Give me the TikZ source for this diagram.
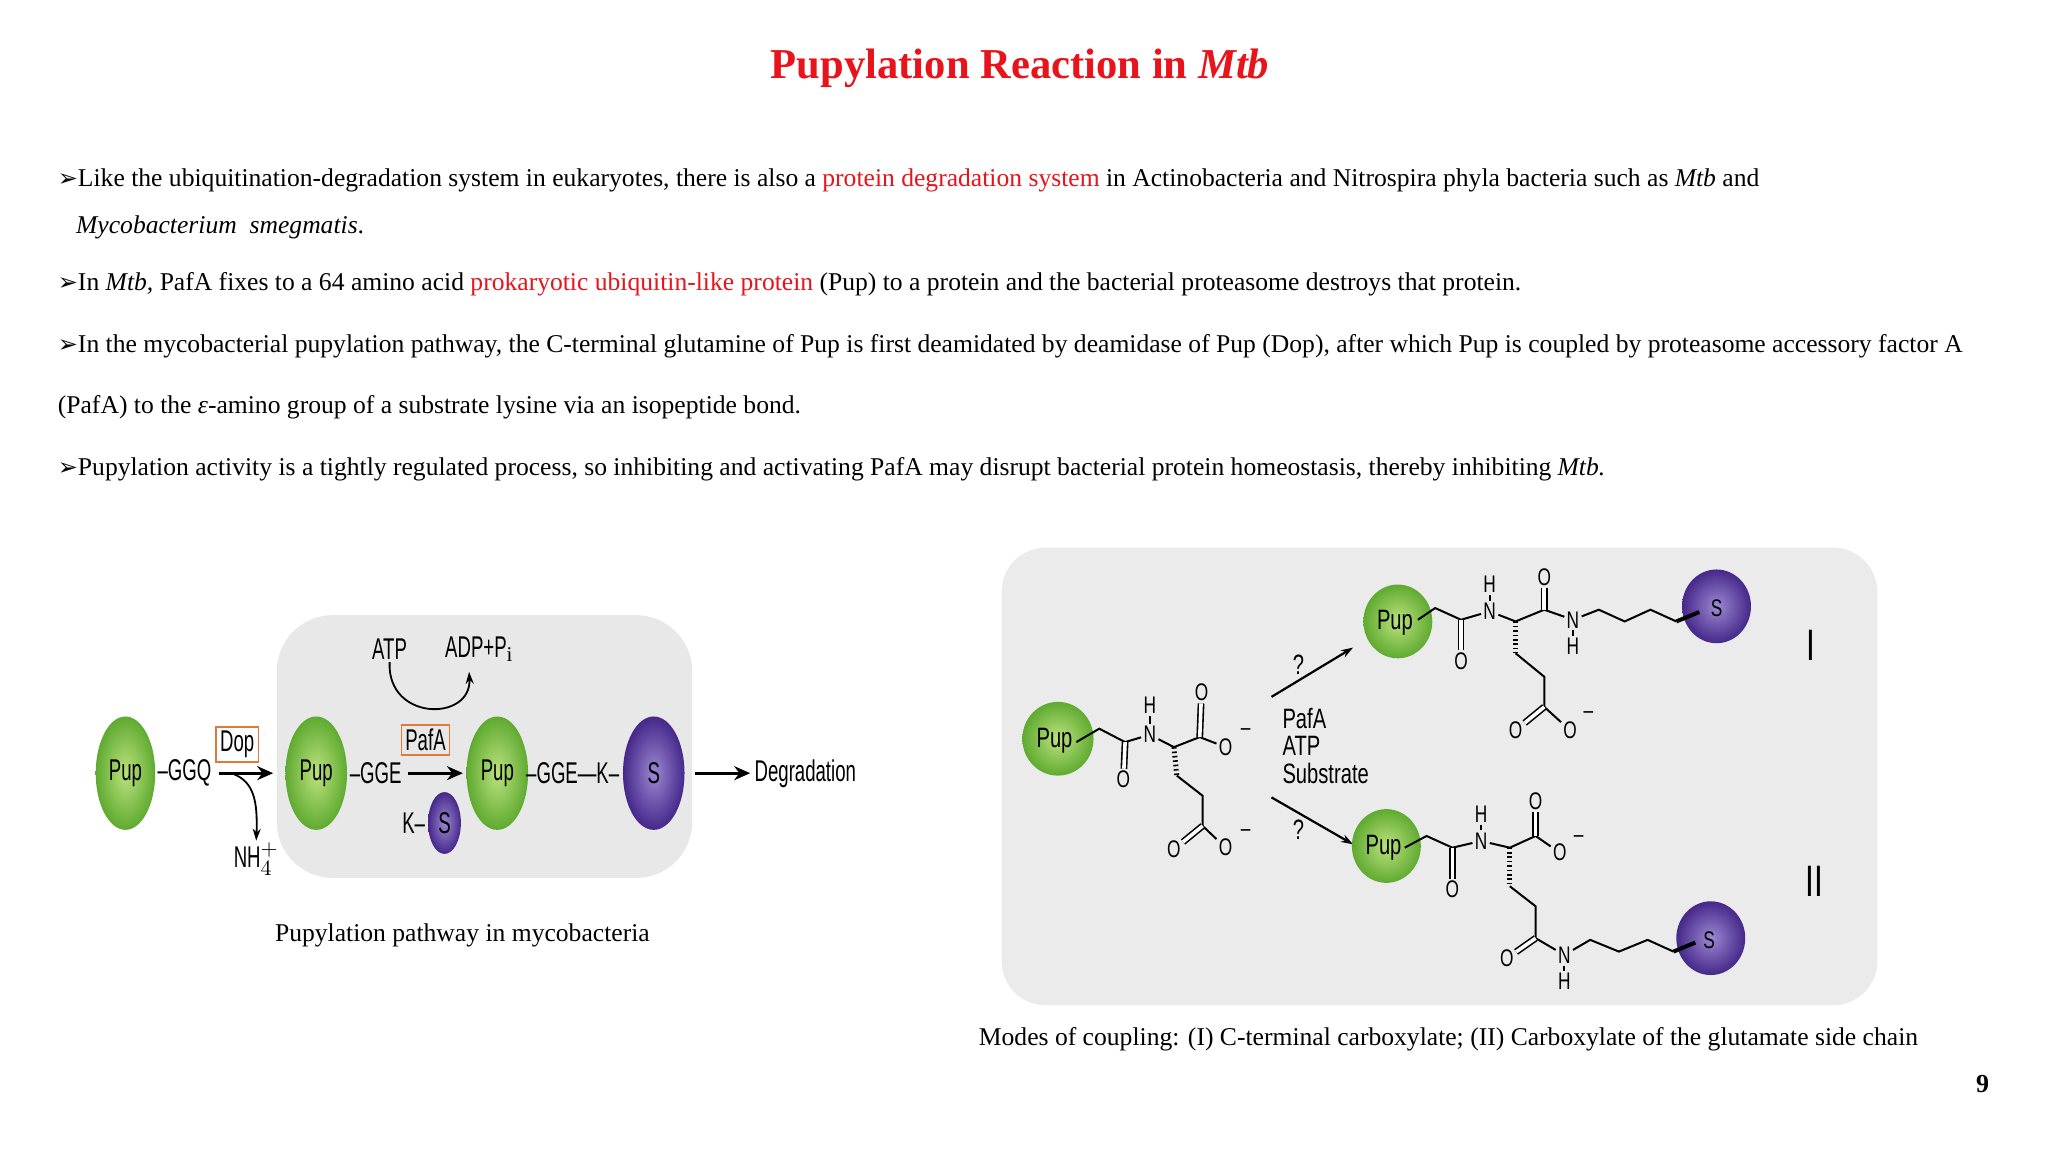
\documentclass[tikz,border=0pt]{standalone}
\usepackage{fontspec}
\setmainfont{Liberation Serif}
\newfontfamily\nar[FakeStretch=0.62]{Liberation Sans}
\newfontfamily\narb[FakeStretch=0.72]{Liberation Sans}
\newfontfamily\dv{DejaVu Sans}
\usetikzlibrary{arrows.meta}
\definecolor{tred}{HTML}{E8141B}
\definecolor{box}{HTML}{E8E8E8}
\definecolor{orng}{HTML}{E07A3A}
\definecolor{gin}{HTML}{BCE27E}
\definecolor{gout}{HTML}{5FAA30}
\definecolor{pin}{HTML}{9C88D2}
\definecolor{pout}{HTML}{45288A}
\tikzset{
  body/.style={anchor=west,inner sep=0pt,font=\fontsize{12.8}{14}\selectfont},
  gball/.style={inner color=gin,outer color=gout},
  pball/.style={inner color=pin,outer color=pout},
  lab/.style={font=\nar\fontsize{15}{15}\selectfont,inner sep=1pt},
  rlab/.style={font=\narb\fontsize{14}{14}\selectfont,inner sep=1pt},
  atom/.style={font=\narb\fontsize{12}{12}\selectfont,inner sep=1pt},
  bond/.style={line width=1pt},
  dbl/.style={line width=0.8pt,double distance=1.8pt},
  hash/.style={line width=2.5pt,dash pattern=on 0.8pt off 1.4pt},
  wedge/.style={line width=2pt},
  rarr/.style={line width=1.4pt,-{Stealth[length=8pt,width=7pt]}},
  thin arr/.style={line width=0.9pt,-{Stealth[length=6pt,width=4pt]}},
}
\begin{document}
\begin{tikzpicture}[x=0.653pt,y=-0.653pt]
\useasboundingbox (0,0) rectangle (1568,882);
\fill[white] (0,0) rectangle (1568,882);
% title
\node[font=\bfseries\fontsize{21.3}{23}\selectfont,text=tred] (title) at (781,52) {Pupylation Reaction in \textit{Mtb}};
% bullets
\newcommand\bul{{\dv\fontsize{12}{12}\selectfont ➢}}
\node[body] (b1) at (44,138) {\bul Like the ubiquitination-degradation system in eukaryotes, there is also a \textcolor{tred}{protein degradation system} in Actinobacteria and Nitrospira phyla bacteria such as \textit{Mtb} and};
\node[body] (b1b) at (58,174) {\textit{Mycobacterium\ \ smegmatis}.};
\node[body] (b2) at (44,218) {\bul In \textit{Mtb,} PafA fixes to a 64 amino acid \textcolor{tred}{prokaryotic ubiquitin-like protein} (Pup) to a protein and the bacterial proteasome destroys that protein.};
\node[body] (b3) at (44,265) {\bul In the mycobacterial pupylation pathway, the C-terminal glutamine of Pup is first deamidated by deamidase of Pup (Dop), after which Pup is coupled by proteasome accessory factor A};
\node[body] (b3b) at (44,312) {(PafA) to the \textit{ε}-amino group of a substrate lysine via an isopeptide bond.};
\node[body] (b4) at (44,359) {\bul Pupylation activity is a tightly regulated process, so inhibiting and activating PafA may disrupt bacterial protein homeostasis, thereby inhibiting \textit{Mtb.}};

% ================= left diagram =================
\begin{scope}[shift={(60.7,455.2)},xscale=0.3927,yscale=0.263]
\fill[box,rounded corners=28pt] (385,60) rectangle (1195,825);
\shade[gball] (90,520) ellipse [x radius=58,y radius=165];
\shade[gball] (462,520) ellipse [x radius=60,y radius=165];
\shade[gball] (815,520) ellipse [x radius=60,y radius=165];
\shade[pball] (1120,520) ellipse [x radius=60,y radius=165];
\shade[pball] (712,665) ellipse [x radius=32,y radius=90];
\node[lab] (p1) at (90,520) {Pup};
\node[lab] (p2) at (462,520) {Pup};
\node[lab] (p3) at (815,520) {Pup};
\node[lab] (s1) at (1120,520) {S};
\node[lab] (s2) at (712,665) {S};
\node[lab] (ggq) at (205,520) {–GGQ};
\node[lab,draw=orng,line width=0.8pt,inner sep=2pt] (dop) at (308,437) {Dop};
\coordinate (d0) at (272,520); \coordinate (d1) at (378,520);
\draw[rarr] (d0) -- (d1);
\coordinate (n0) at (300,522);
\node[lab] (nh4) at (345,770) {NH$_4^+$};
\draw[thin arr] (n0) .. controls (340,545) and (348,600) .. (nh4.north);
\node[lab] (gge) at (578,520) {–GGE};
\node[lab,draw=orng,line width=0.8pt,inner sep=2pt] (pafa) at (675,423) {PafA};
\coordinate (e0) at (640,520); \coordinate (e1) at (748,520);
\draw[rarr] (e0) -- (e1);
\node[lab] (k) at (652,665) {K–};
\node[lab] (atp) at (605,160) {ATP};
\node[lab] (adp) at (780,160) {ADP+P$_\mathrm{i}$};
\draw[thin arr] (atp.south) .. controls (600,370) and (765,370) .. (760,225);
\node[lab] (ggek) at (962,520) {–GGE—K–};
\coordinate (g0) at (1200,520); \coordinate (g1) at (1308,520);
\draw[rarr] (g0) -- (g1);
\node[lab,anchor=west] (deg) at (1312,522) {Degradation};
\end{scope}
\node[font=\fontsize{12.8}{14}\selectfont] (cap1) at (354,716) {Pupylation pathway in mycobacteria};

% ================= right diagram =================
\begin{scope}[shift={(758.1,414.2)},xscale=0.4396,yscale=0.2566]
\fill[box!85!white,rounded corners=22pt] (20,20) rectangle (1545,1385);
% left molecule
\shade[gball] (118,590) ellipse [x radius=62,y radius=110];
\node[rlab] (pupa) at (112,595) {Pup};
\coordinate (a1) at (150,600); \coordinate (a2) at (190,560); \coordinate (a3) at (235,600);
\node[atom] (oa1) at (232,712) {O};
\node[atom] (na) at (278,578) {N};
\node[atom] (ha) at (278,490) {H};
\coordinate (a4) at (320,615); \coordinate (a5) at (365,585);
\node[atom] (oa2) at (368,452) {O};
\node[atom] (oa3) at (410,615) {O};
\node[atom] (ma1) at (445,570) {–};
\coordinate (a6) at (325,700); \coordinate (a7) at (370,760); \coordinate (a8) at (370,850);
\node[atom] (oa4) at (320,920) {O};
\node[atom] (oa5) at (410,915) {O};
\node[atom] (ma2) at (445,870) {–};
\draw[bond] (a1)--(a2)--(a3)--(na)--(a4)--(a5)--(oa3);
\draw[dbl] (a3)--(oa1); \draw[dbl] (a5)--(oa2);
\draw[bond] (na)--(ha);
\draw[hash] (a4)--(a6);
\draw[bond] (a6)--(a7)--(a8)--(oa5);
\draw[dbl] (a8)--(oa4);
% arrows and conditions
\coordinate (r0) at (490,465); \coordinate (r1) at (632,318);
\coordinate (r2) at (490,765); \coordinate (r3) at (632,905);
\draw[thin arr,line width=1.1pt] (r0)--(r1);
\draw[thin arr,line width=1.1pt] (r2)--(r3);
\node[rlab] (q1) at (537,370) {?};
\node[rlab] (q2) at (537,862) {?};
\node[rlab,anchor=west] (c1) at (505,530) {PafA};
\node[rlab,anchor=west] (c2) at (505,610) {ATP};
\node[rlab,anchor=west] (c3) at (505,695) {Substrate};
% product I
\shade[gball] (710,240) ellipse [x radius=60,y radius=110];
\shade[pball] (1265,195) ellipse [x radius=60,y radius=110];
\node[rlab] (pupb) at (705,243) {Pup};
\node[atom] (sb) at (1265,200) {S};
\coordinate (b1) at (745,235); \coordinate (b2) at (775,200); \coordinate (b3) at (820,235);
\node[atom] (ob1) at (820,358) {O};
\node[atom] (nb1) at (870,210) {N};
\node[atom] (hb1) at (870,130) {H};
\coordinate (b4) at (915,240); \coordinate (b5) at (965,205);
\node[atom] (ob2) at (965,108) {O};
\node[atom] (nb2) at (1015,235) {N};
\node[atom] (hb2) at (1015,315) {H};
\coordinate (b6) at (1060,205); \coordinate (b7) at (1105,240); \coordinate (b8) at (1150,205); \coordinate (b9) at (1195,240); \coordinate (b10) at (1235,212);
\coordinate (b11) at (915,335); \coordinate (b12) at (965,405); \coordinate (b13) at (965,495);
\node[atom] (ob3) at (915,565) {O};
\node[atom] (ob4) at (1010,565) {O};
\node[atom] (mb) at (1042,520) {–};
\draw[bond] (b1)--(b2)--(b3)--(nb1)--(b4)--(b5)--(nb2)--(b6)--(b7)--(b8)--(b9);
\draw[wedge] (b9)--(b10);
\draw[dbl] (b3)--(ob1); \draw[dbl] (b5)--(ob2);
\draw[bond] (nb1)--(hb1); \draw[bond] (nb2)--(hb2);
\draw[hash] (b4)--(b11);
\draw[bond] (b11)--(b12)--(b13)--(ob4);
\draw[dbl] (b13)--(ob3);
\node[font=\narb\fontsize{22}{22}\selectfont] (one) at (1430,310) {I};
% product II
\shade[gball] (690,910) ellipse [x radius=60,y radius=110];
\shade[pball] (1255,1185) ellipse [x radius=60,y radius=110];
\node[rlab] (pupc) at (685,915) {Pup};
\node[atom] (sc) at (1252,1190) {S};
\coordinate (c1) at (722,915); \coordinate (c2) at (760,880); \coordinate (c3) at (805,915);
\node[atom] (oc1) at (805,1040) {O};
\node[atom] (nc1) at (855,895) {N};
\node[atom] (hc1) at (855,815) {H};
\coordinate (c4) at (905,915); \coordinate (c5) at (950,880);
\node[atom] (oc2) at (950,775) {O};
\node[atom] (oc3) at (992,930) {O};
\node[atom] (mc) at (1025,890) {–};
\coordinate (c6) at (905,1030); \coordinate (c7) at (950,1090); \coordinate (c8) at (950,1185);
\node[atom] (oc4) at (900,1245) {O};
\node[atom] (nc2) at (1000,1235) {N};
\node[atom] (hc2) at (1000,1315) {H};
\coordinate (c9) at (1045,1190); \coordinate (c10) at (1095,1225); \coordinate (c11) at (1145,1190); \coordinate (c12) at (1190,1225); \coordinate (c13) at (1228,1198);
\draw[bond] (c1)--(c2)--(c3)--(nc1)--(c4)--(c5)--(oc3);
\draw[dbl] (c3)--(oc1); \draw[dbl] (c5)--(oc2);
\draw[bond] (nc1)--(hc1);
\draw[hash] (c4)--(c6);
\draw[bond] (c6)--(c7)--(c8)--(nc2)--(c9)--(c10)--(c11)--(c12);
\draw[wedge] (c12)--(c13);
\draw[dbl] (c8)--(oc4);
\draw[bond] (nc2)--(hc2);
\node[font=\narb\fontsize{22}{22}\selectfont] (two) at (1435,1015) {II};
\end{scope}
\node[font=\fontsize{12.8}{14}\selectfont] (cap2) at (1109,796) {Modes of coupling: (I) C-terminal carboxylate; (II) Carboxylate of the glutamate side chain};
\node[font=\bfseries\fontsize{13}{14}\selectfont] (pg) at (1518,830) {9};
\end{tikzpicture}
\end{document}
